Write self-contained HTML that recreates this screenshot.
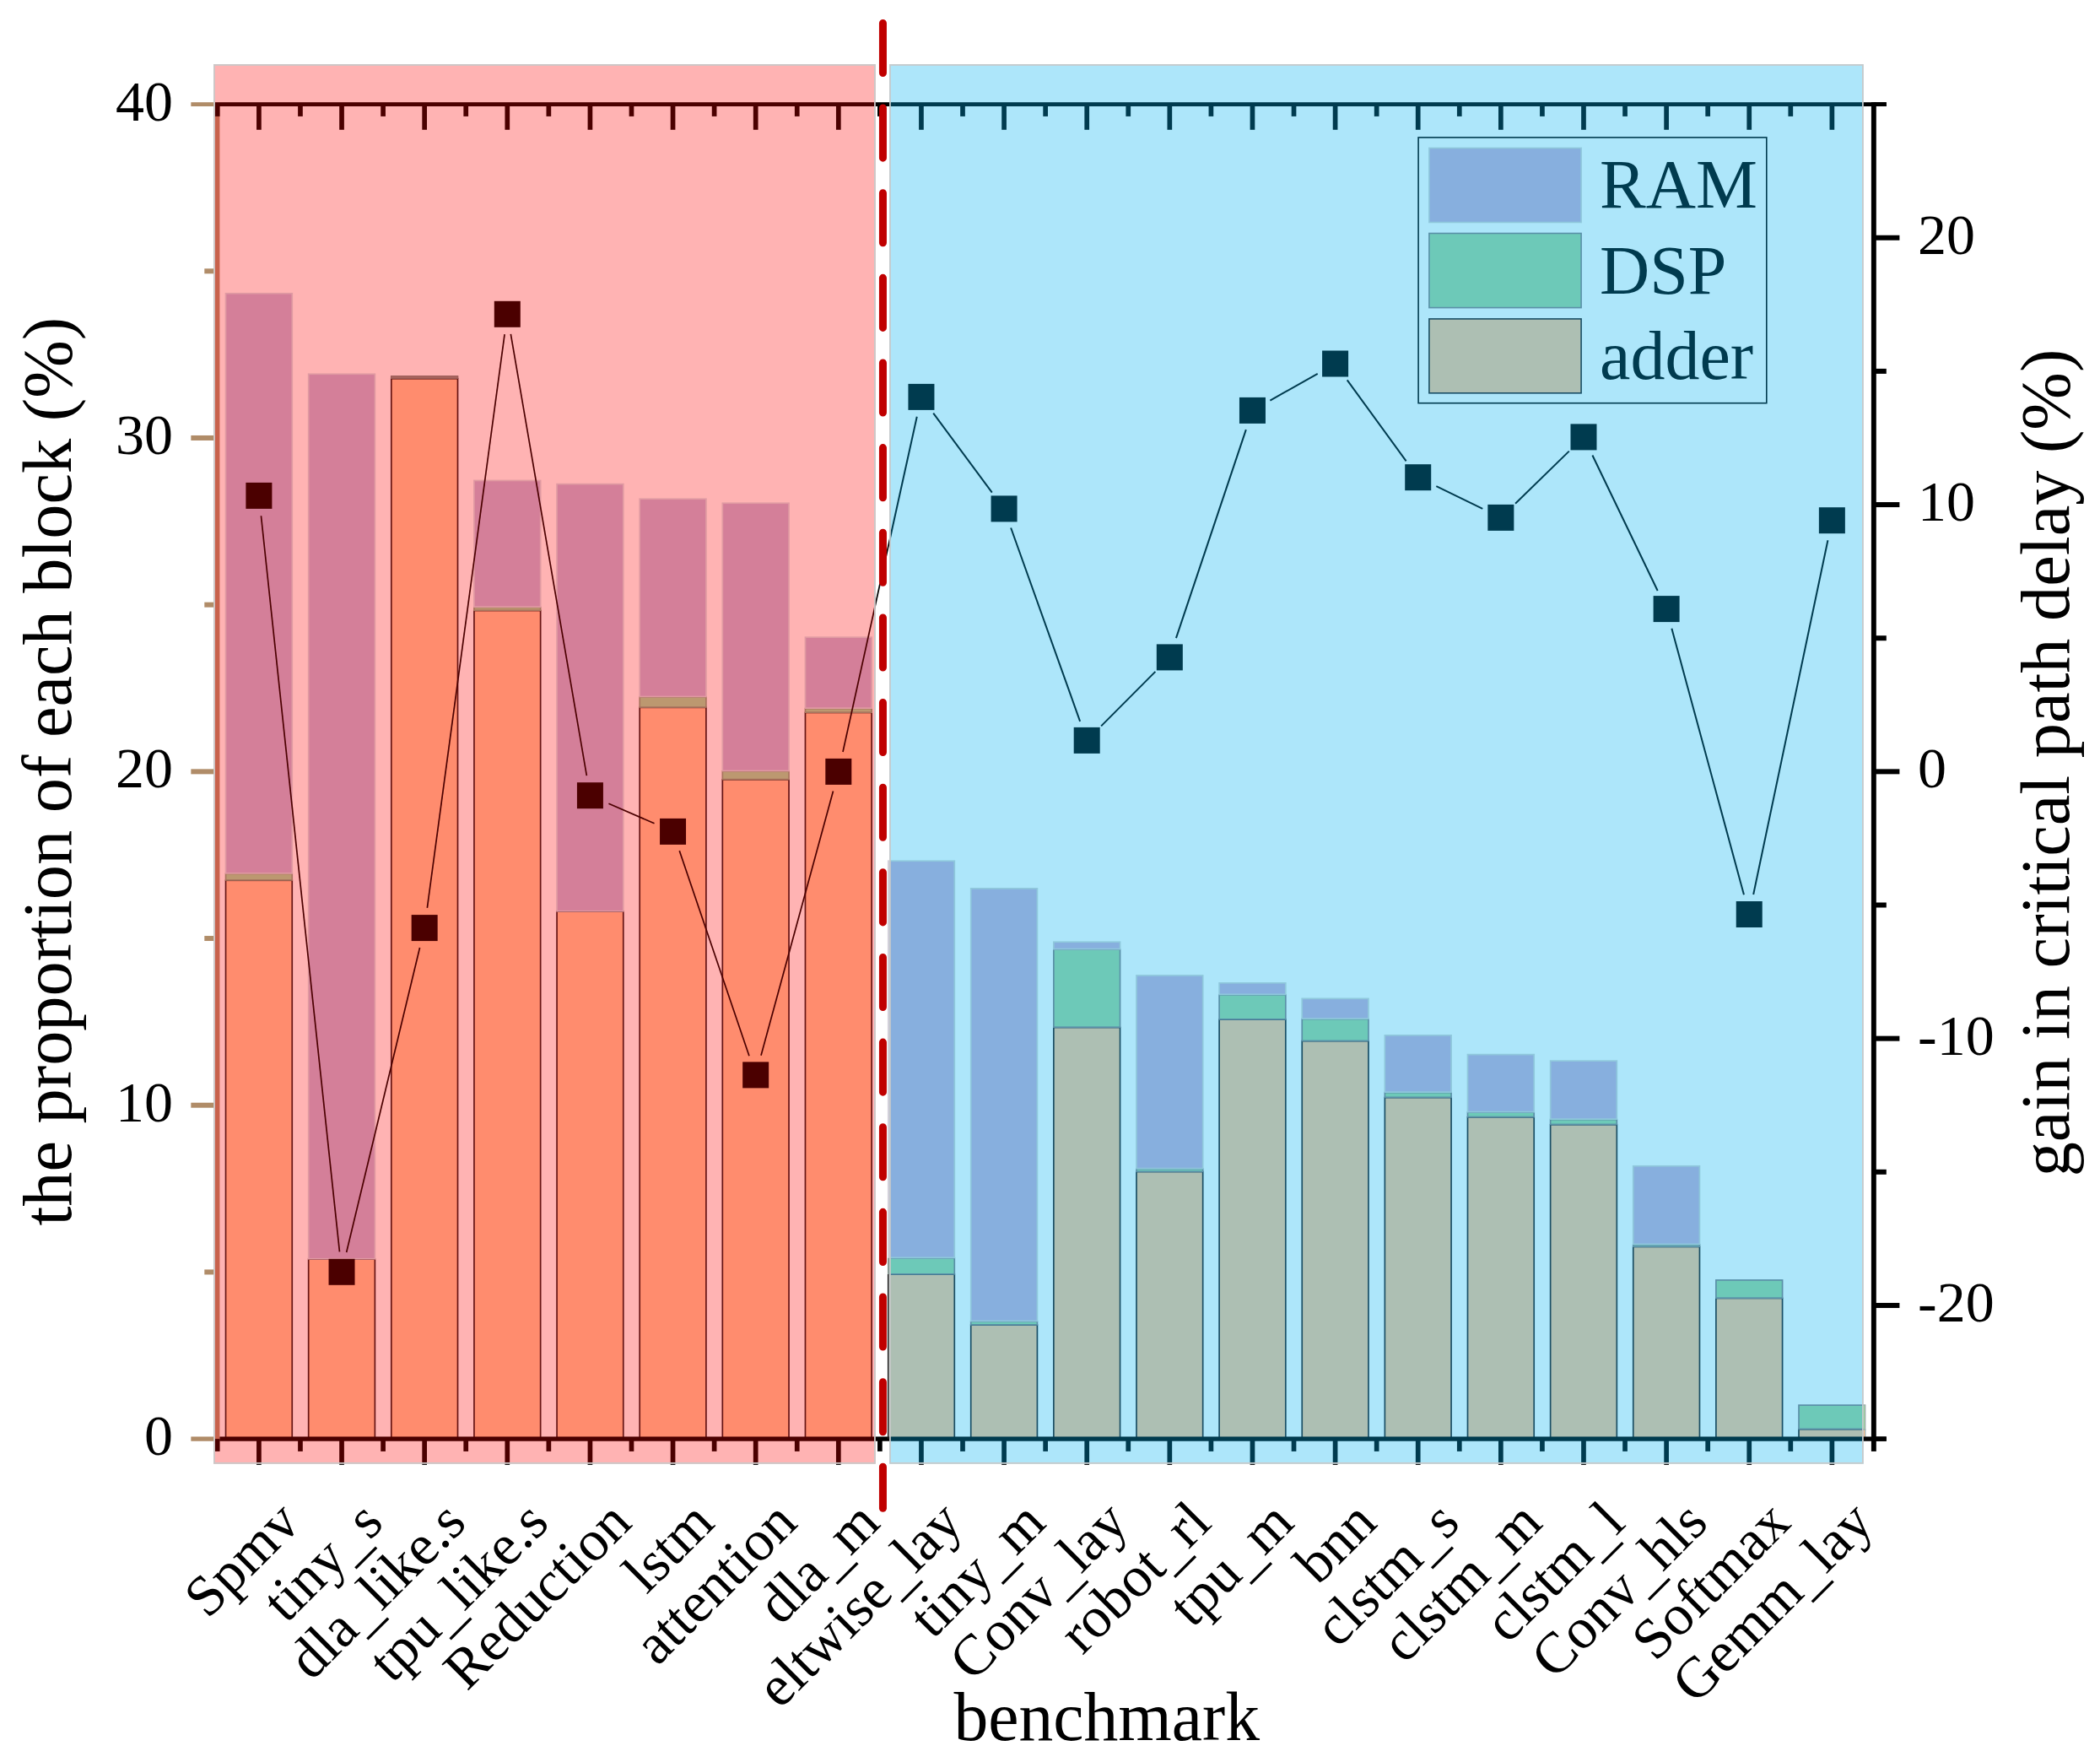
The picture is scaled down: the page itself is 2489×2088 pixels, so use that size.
<!DOCTYPE html>
<html><head><meta charset="utf-8"><title>chart</title>
<style>html,body{margin:0;padding:0;background:#fff}svg{display:block}</style></head>
<body>
<svg width="2489" height="2088" viewBox="0 0 2489 2088" font-family="'Liberation Serif','Times New Roman',serif">
<defs>
<clipPath id="cp"><rect x="0" y="0" width="1037.8" height="1734.7"/></clipPath>
<clipPath id="cg"><rect x="1037.8" y="0" width="16.299999999999955" height="2088"/><rect x="0" y="1734.7" width="2489" height="400"/></clipPath>
<clipPath id="cb"><rect x="1054.1" y="0" width="1154.65" height="1734.7"/></clipPath>
<clipPath id="cr"><rect x="2208.75" y="0" width="300" height="1734.7"/></clipPath>
</defs>
<rect width="2489" height="2088" fill="#fff"/>
<rect x="2131.97" y="1664.90" width="78.80" height="29.30" fill="#A1D49D" stroke="#9AA" stroke-width="1.2"/>
<rect x="2131.97" y="1694.20" width="78.80" height="11.50" fill="#FFC595" stroke="#9AA" stroke-width="1.2"/>
<rect x="253.05" y="76.10" width="784.75" height="1658.60" fill="#FFB3B3"/>
<rect x="1054.10" y="76.10" width="1154.65" height="1658.60" fill="#ADE6FA"/>
<rect x="255.00" y="123.60" width="5.4" height="1584.10" fill="#C8624C"/>
<clipPath id="cz"><rect x="253.05" y="0" width="784.75" height="2088"/><rect x="1054.10" y="0" width="1154.65" height="2088"/></clipPath>
<g clip-path="url(#cz)">
<rect x="267.55" y="1043.25" width="78.70" height="661.00" fill="#FF8C6E" stroke="#661414" stroke-width="1.7"/>
<rect x="267.55" y="1035.35" width="78.70" height="7.60" fill="#BC9870" stroke="#A8745E" stroke-width="1.7"/>
<rect x="267.55" y="347.75" width="78.70" height="687.10" fill="#D47F99" stroke="#E09AA2" stroke-width="1.7"/>
<rect x="365.68" y="1492.15" width="78.70" height="212.10" fill="#FF8C6E" stroke="#661414" stroke-width="1.7"/>
<rect x="365.68" y="443.25" width="78.70" height="1048.50" fill="#D47F99" stroke="#E09AA2" stroke-width="1.7"/>
<rect x="463.81" y="448.75" width="78.70" height="1255.50" fill="#FF8C6E" stroke="#661414" stroke-width="1.7"/>
<rect x="463.46" y="445.60" width="79.40" height="3.00" fill="#A8645E" stroke="#9A5A56" stroke-width="1.0"/>
<rect x="561.94" y="723.55" width="78.70" height="980.70" fill="#FF8C6E" stroke="#661414" stroke-width="1.7"/>
<rect x="561.94" y="719.65" width="78.70" height="3.60" fill="#BC9870" stroke="#A8745E" stroke-width="1.7"/>
<rect x="561.94" y="569.45" width="78.70" height="149.70" fill="#D47F99" stroke="#E09AA2" stroke-width="1.7"/>
<rect x="660.07" y="1080.15" width="78.70" height="624.10" fill="#FF8C6E" stroke="#661414" stroke-width="1.7"/>
<rect x="660.07" y="573.65" width="78.70" height="506.10" fill="#D47F99" stroke="#E09AA2" stroke-width="1.7"/>
<rect x="758.20" y="838.35" width="78.70" height="865.90" fill="#FF8C6E" stroke="#661414" stroke-width="1.7"/>
<rect x="758.20" y="825.95" width="78.70" height="12.10" fill="#BC9870" stroke="#A8745E" stroke-width="1.7"/>
<rect x="758.20" y="591.25" width="78.70" height="234.20" fill="#D47F99" stroke="#E09AA2" stroke-width="1.7"/>
<rect x="856.33" y="923.85" width="78.70" height="780.40" fill="#FF8C6E" stroke="#661414" stroke-width="1.7"/>
<rect x="856.33" y="913.95" width="78.70" height="9.60" fill="#BC9870" stroke="#A8745E" stroke-width="1.7"/>
<rect x="856.33" y="596.25" width="78.70" height="317.20" fill="#D47F99" stroke="#E09AA2" stroke-width="1.7"/>
<rect x="954.46" y="844.45" width="78.70" height="859.80" fill="#FF8C6E" stroke="#661414" stroke-width="1.7"/>
<rect x="954.46" y="839.65" width="78.70" height="4.50" fill="#BC9870" stroke="#A8745E" stroke-width="1.7"/>
<rect x="954.46" y="755.15" width="78.70" height="84.00" fill="#D47F99" stroke="#E09AA2" stroke-width="1.7"/>
<rect x="1052.59" y="1510.15" width="78.70" height="194.10" fill="#ADBFB3" stroke="#1A4F66" stroke-width="1.7"/>
<rect x="1052.59" y="1490.85" width="78.70" height="19.00" fill="#6DC9B8" stroke="#5A90A8" stroke-width="1.7"/>
<rect x="1052.59" y="1020.25" width="78.70" height="470.10" fill="#87AFDE" stroke="#8FC8DC" stroke-width="1.7"/>
<rect x="1150.72" y="1570.15" width="78.70" height="134.10" fill="#ADBFB3" stroke="#1A4F66" stroke-width="1.7"/>
<rect x="1150.72" y="1565.95" width="78.70" height="3.90" fill="#6DC9B8" stroke="#5A90A8" stroke-width="1.7"/>
<rect x="1150.72" y="1052.85" width="78.70" height="512.60" fill="#87AFDE" stroke="#8FC8DC" stroke-width="1.7"/>
<rect x="1248.85" y="1217.55" width="78.70" height="486.70" fill="#ADBFB3" stroke="#1A4F66" stroke-width="1.7"/>
<rect x="1248.85" y="1125.15" width="78.70" height="92.10" fill="#6DC9B8" stroke="#5A90A8" stroke-width="1.7"/>
<rect x="1248.85" y="1116.25" width="78.70" height="8.40" fill="#87AFDE" stroke="#8FC8DC" stroke-width="1.7"/>
<rect x="1346.98" y="1388.55" width="78.70" height="315.70" fill="#ADBFB3" stroke="#1A4F66" stroke-width="1.7"/>
<rect x="1346.98" y="1385.15" width="78.70" height="3.10" fill="#6DC9B8" stroke="#5A90A8" stroke-width="1.7"/>
<rect x="1346.98" y="1155.95" width="78.70" height="228.70" fill="#87AFDE" stroke="#8FC8DC" stroke-width="1.7"/>
<rect x="1445.11" y="1208.15" width="78.70" height="496.10" fill="#ADBFB3" stroke="#1A4F66" stroke-width="1.7"/>
<rect x="1445.11" y="1178.85" width="78.70" height="29.00" fill="#6DC9B8" stroke="#5A90A8" stroke-width="1.7"/>
<rect x="1445.11" y="1164.85" width="78.70" height="13.50" fill="#87AFDE" stroke="#8FC8DC" stroke-width="1.7"/>
<rect x="1543.24" y="1233.65" width="78.70" height="470.60" fill="#ADBFB3" stroke="#1A4F66" stroke-width="1.7"/>
<rect x="1543.24" y="1207.55" width="78.70" height="25.80" fill="#6DC9B8" stroke="#5A90A8" stroke-width="1.7"/>
<rect x="1543.24" y="1183.35" width="78.70" height="23.70" fill="#87AFDE" stroke="#8FC8DC" stroke-width="1.7"/>
<rect x="1641.37" y="1300.65" width="78.70" height="403.60" fill="#ADBFB3" stroke="#1A4F66" stroke-width="1.7"/>
<rect x="1641.37" y="1294.65" width="78.70" height="5.70" fill="#6DC9B8" stroke="#5A90A8" stroke-width="1.7"/>
<rect x="1641.37" y="1226.85" width="78.70" height="67.30" fill="#87AFDE" stroke="#8FC8DC" stroke-width="1.7"/>
<rect x="1739.50" y="1323.85" width="78.70" height="380.40" fill="#ADBFB3" stroke="#1A4F66" stroke-width="1.7"/>
<rect x="1739.50" y="1318.15" width="78.70" height="5.40" fill="#6DC9B8" stroke="#5A90A8" stroke-width="1.7"/>
<rect x="1739.50" y="1249.65" width="78.70" height="68.00" fill="#87AFDE" stroke="#8FC8DC" stroke-width="1.7"/>
<rect x="1837.63" y="1332.75" width="78.70" height="371.50" fill="#ADBFB3" stroke="#1A4F66" stroke-width="1.7"/>
<rect x="1837.63" y="1326.65" width="78.70" height="5.80" fill="#6DC9B8" stroke="#5A90A8" stroke-width="1.7"/>
<rect x="1837.63" y="1257.15" width="78.70" height="69.00" fill="#87AFDE" stroke="#8FC8DC" stroke-width="1.7"/>
<rect x="1935.76" y="1477.45" width="78.70" height="226.80" fill="#ADBFB3" stroke="#1A4F66" stroke-width="1.7"/>
<rect x="1935.76" y="1474.85" width="78.70" height="2.30" fill="#6DC9B8" stroke="#5A90A8" stroke-width="1.7"/>
<rect x="1935.76" y="1381.75" width="78.70" height="92.60" fill="#87AFDE" stroke="#8FC8DC" stroke-width="1.7"/>
<rect x="2033.89" y="1538.45" width="78.70" height="165.80" fill="#ADBFB3" stroke="#1A4F66" stroke-width="1.7"/>
<rect x="2033.89" y="1516.95" width="78.70" height="21.20" fill="#6DC9B8" stroke="#5A90A8" stroke-width="1.7"/>
<rect x="2132.02" y="1693.75" width="78.70" height="10.50" fill="#ADBFB3" stroke="#1A4F66" stroke-width="1.7"/>
<rect x="2132.02" y="1665.15" width="78.70" height="28.30" fill="#6DC9B8" stroke="#5A90A8" stroke-width="1.7"/>
</g>
<g clip-path="url(#cp)"><rect x="254.85" y="121.20" width="1980.95" height="4.8" fill="#4B0000"/>
<rect x="260.40" y="1702.45" width="1975.40" height="5.3" fill="#4B0000"/>
<rect x="304.05" y="123.60" width="5.7" height="30.20" fill="#4B0000"/>
<rect x="304.05" y="1705.10" width="5.7" height="30.80" fill="#4B0000"/>
<rect x="402.18" y="123.60" width="5.7" height="30.20" fill="#4B0000"/>
<rect x="402.18" y="1705.10" width="5.7" height="30.80" fill="#4B0000"/>
<rect x="500.31" y="123.60" width="5.7" height="30.20" fill="#4B0000"/>
<rect x="500.31" y="1705.10" width="5.7" height="30.80" fill="#4B0000"/>
<rect x="598.44" y="123.60" width="5.7" height="30.20" fill="#4B0000"/>
<rect x="598.44" y="1705.10" width="5.7" height="30.80" fill="#4B0000"/>
<rect x="696.57" y="123.60" width="5.7" height="30.20" fill="#4B0000"/>
<rect x="696.57" y="1705.10" width="5.7" height="30.80" fill="#4B0000"/>
<rect x="794.70" y="123.60" width="5.7" height="30.20" fill="#4B0000"/>
<rect x="794.70" y="1705.10" width="5.7" height="30.80" fill="#4B0000"/>
<rect x="892.83" y="123.60" width="5.7" height="30.20" fill="#4B0000"/>
<rect x="892.83" y="1705.10" width="5.7" height="30.80" fill="#4B0000"/>
<rect x="990.96" y="123.60" width="5.7" height="30.20" fill="#4B0000"/>
<rect x="990.96" y="1705.10" width="5.7" height="30.80" fill="#4B0000"/>
<rect x="1089.09" y="123.60" width="5.7" height="30.20" fill="#4B0000"/>
<rect x="1089.09" y="1705.10" width="5.7" height="30.80" fill="#4B0000"/>
<rect x="1187.22" y="123.60" width="5.7" height="30.20" fill="#4B0000"/>
<rect x="1187.22" y="1705.10" width="5.7" height="30.80" fill="#4B0000"/>
<rect x="1285.35" y="123.60" width="5.7" height="30.20" fill="#4B0000"/>
<rect x="1285.35" y="1705.10" width="5.7" height="30.80" fill="#4B0000"/>
<rect x="1383.48" y="123.60" width="5.7" height="30.20" fill="#4B0000"/>
<rect x="1383.48" y="1705.10" width="5.7" height="30.80" fill="#4B0000"/>
<rect x="1481.61" y="123.60" width="5.7" height="30.20" fill="#4B0000"/>
<rect x="1481.61" y="1705.10" width="5.7" height="30.80" fill="#4B0000"/>
<rect x="1579.74" y="123.60" width="5.7" height="30.20" fill="#4B0000"/>
<rect x="1579.74" y="1705.10" width="5.7" height="30.80" fill="#4B0000"/>
<rect x="1677.87" y="123.60" width="5.7" height="30.20" fill="#4B0000"/>
<rect x="1677.87" y="1705.10" width="5.7" height="30.80" fill="#4B0000"/>
<rect x="1776.00" y="123.60" width="5.7" height="30.20" fill="#4B0000"/>
<rect x="1776.00" y="1705.10" width="5.7" height="30.80" fill="#4B0000"/>
<rect x="1874.13" y="123.60" width="5.7" height="30.20" fill="#4B0000"/>
<rect x="1874.13" y="1705.10" width="5.7" height="30.80" fill="#4B0000"/>
<rect x="1972.26" y="123.60" width="5.7" height="30.20" fill="#4B0000"/>
<rect x="1972.26" y="1705.10" width="5.7" height="30.80" fill="#4B0000"/>
<rect x="2070.39" y="123.60" width="5.7" height="30.20" fill="#4B0000"/>
<rect x="2070.39" y="1705.10" width="5.7" height="30.80" fill="#4B0000"/>
<rect x="2168.52" y="123.60" width="5.7" height="30.20" fill="#4B0000"/>
<rect x="2168.52" y="1705.10" width="5.7" height="30.80" fill="#4B0000"/>
<rect x="254.85" y="123.60" width="5.7" height="14.30" fill="#4B0000"/>
<rect x="254.85" y="1705.10" width="5.7" height="14.80" fill="#4B0000"/>
<rect x="353.11" y="123.60" width="5.7" height="14.30" fill="#4B0000"/>
<rect x="353.11" y="1705.10" width="5.7" height="14.80" fill="#4B0000"/>
<rect x="451.24" y="123.60" width="5.7" height="14.30" fill="#4B0000"/>
<rect x="451.24" y="1705.10" width="5.7" height="14.80" fill="#4B0000"/>
<rect x="549.37" y="123.60" width="5.7" height="14.30" fill="#4B0000"/>
<rect x="549.37" y="1705.10" width="5.7" height="14.80" fill="#4B0000"/>
<rect x="647.50" y="123.60" width="5.7" height="14.30" fill="#4B0000"/>
<rect x="647.50" y="1705.10" width="5.7" height="14.80" fill="#4B0000"/>
<rect x="745.63" y="123.60" width="5.7" height="14.30" fill="#4B0000"/>
<rect x="745.63" y="1705.10" width="5.7" height="14.80" fill="#4B0000"/>
<rect x="843.76" y="123.60" width="5.7" height="14.30" fill="#4B0000"/>
<rect x="843.76" y="1705.10" width="5.7" height="14.80" fill="#4B0000"/>
<rect x="941.89" y="123.60" width="5.7" height="14.30" fill="#4B0000"/>
<rect x="941.89" y="1705.10" width="5.7" height="14.80" fill="#4B0000"/>
<rect x="1040.03" y="123.60" width="5.7" height="14.30" fill="#4B0000"/>
<rect x="1040.03" y="1705.10" width="5.7" height="14.80" fill="#4B0000"/>
<rect x="1138.16" y="123.60" width="5.7" height="14.30" fill="#4B0000"/>
<rect x="1138.16" y="1705.10" width="5.7" height="14.80" fill="#4B0000"/>
<rect x="1236.29" y="123.60" width="5.7" height="14.30" fill="#4B0000"/>
<rect x="1236.29" y="1705.10" width="5.7" height="14.80" fill="#4B0000"/>
<rect x="1334.41" y="123.60" width="5.7" height="14.30" fill="#4B0000"/>
<rect x="1334.41" y="1705.10" width="5.7" height="14.80" fill="#4B0000"/>
<rect x="1432.55" y="123.60" width="5.7" height="14.30" fill="#4B0000"/>
<rect x="1432.55" y="1705.10" width="5.7" height="14.80" fill="#4B0000"/>
<rect x="1530.68" y="123.60" width="5.7" height="14.30" fill="#4B0000"/>
<rect x="1530.68" y="1705.10" width="5.7" height="14.80" fill="#4B0000"/>
<rect x="1628.81" y="123.60" width="5.7" height="14.30" fill="#4B0000"/>
<rect x="1628.81" y="1705.10" width="5.7" height="14.80" fill="#4B0000"/>
<rect x="1726.93" y="123.60" width="5.7" height="14.30" fill="#4B0000"/>
<rect x="1726.93" y="1705.10" width="5.7" height="14.80" fill="#4B0000"/>
<rect x="1825.07" y="123.60" width="5.7" height="14.30" fill="#4B0000"/>
<rect x="1825.07" y="1705.10" width="5.7" height="14.80" fill="#4B0000"/>
<rect x="1923.20" y="123.60" width="5.7" height="14.30" fill="#4B0000"/>
<rect x="1923.20" y="1705.10" width="5.7" height="14.80" fill="#4B0000"/>
<rect x="2021.33" y="123.60" width="5.7" height="14.30" fill="#4B0000"/>
<rect x="2021.33" y="1705.10" width="5.7" height="14.80" fill="#4B0000"/>
<rect x="2119.45" y="123.60" width="5.7" height="14.30" fill="#4B0000"/>
<rect x="2119.45" y="1705.10" width="5.7" height="14.80" fill="#4B0000"/>
<line x1="309.45" y1="611.26" x2="402.48" y2="1483.44" stroke="#4B0000" stroke-width="1.7"/>
<line x1="410.65" y1="1483.97" x2="497.54" y2="1122.93" stroke="#4B0000" stroke-width="1.7"/>
<line x1="506.37" y1="1075.82" x2="598.08" y2="396.08" stroke="#4B0000" stroke-width="1.7"/>
<line x1="605.36" y1="395.95" x2="695.35" y2="919.05" stroke="#4B0000" stroke-width="1.7"/>
<line x1="721.43" y1="952.28" x2="775.54" y2="975.82" stroke="#4B0000" stroke-width="1.7"/>
<line x1="805.28" y1="1008.12" x2="887.95" y2="1251.18" stroke="#4B0000" stroke-width="1.7"/>
<line x1="902.00" y1="1250.75" x2="987.49" y2="937.55" stroke="#4B0000" stroke-width="1.7"/>
<line x1="998.99" y1="890.97" x2="1086.76" y2="493.83" stroke="#4B0000" stroke-width="1.7"/>
<line x1="1106.22" y1="489.69" x2="1175.79" y2="583.61" stroke="#4B0000" stroke-width="1.7"/>
<line x1="1198.15" y1="625.50" x2="1280.12" y2="854.80" stroke="#4B0000" stroke-width="1.7"/>
<line x1="1305.14" y1="860.40" x2="1369.39" y2="795.90" stroke="#4B0000" stroke-width="1.7"/>
<line x1="1393.96" y1="756.15" x2="1476.83" y2="509.15" stroke="#4B0000" stroke-width="1.7"/>
<line x1="1505.36" y1="474.60" x2="1561.69" y2="442.80" stroke="#4B0000" stroke-width="1.7"/>
<line x1="1596.72" y1="450.40" x2="1666.59" y2="546.30" stroke="#4B0000" stroke-width="1.7"/>
<line x1="1702.31" y1="576.19" x2="1757.26" y2="602.91" stroke="#4B0000" stroke-width="1.7"/>
<line x1="1796.05" y1="596.66" x2="1859.78" y2="534.64" stroke="#4B0000" stroke-width="1.7"/>
<line x1="1887.40" y1="539.52" x2="1964.69" y2="699.98" stroke="#4B0000" stroke-width="1.7"/>
<line x1="1981.39" y1="744.76" x2="2066.96" y2="1060.34" stroke="#4B0000" stroke-width="1.7"/>
<line x1="2078.18" y1="1060.01" x2="2166.43" y2="640.19" stroke="#4B0000" stroke-width="1.7"/>
<rect x="291.40" y="571.90" width="31.0" height="31.0" fill="#4B0000"/>
<rect x="389.53" y="1491.80" width="31.0" height="31.0" fill="#4B0000"/>
<rect x="487.66" y="1084.10" width="31.0" height="31.0" fill="#4B0000"/>
<rect x="585.79" y="356.80" width="31.0" height="31.0" fill="#4B0000"/>
<rect x="683.92" y="927.20" width="31.0" height="31.0" fill="#4B0000"/>
<rect x="782.05" y="969.90" width="31.0" height="31.0" fill="#4B0000"/>
<rect x="880.18" y="1258.40" width="31.0" height="31.0" fill="#4B0000"/>
<rect x="978.31" y="898.90" width="31.0" height="31.0" fill="#4B0000"/>
<rect x="1076.44" y="454.90" width="31.0" height="31.0" fill="#4B0000"/>
<rect x="1174.57" y="587.40" width="31.0" height="31.0" fill="#4B0000"/>
<rect x="1272.70" y="861.90" width="31.0" height="31.0" fill="#4B0000"/>
<rect x="1370.83" y="763.40" width="31.0" height="31.0" fill="#4B0000"/>
<rect x="1468.96" y="470.90" width="31.0" height="31.0" fill="#4B0000"/>
<rect x="1567.09" y="415.50" width="31.0" height="31.0" fill="#4B0000"/>
<rect x="1665.22" y="550.20" width="31.0" height="31.0" fill="#4B0000"/>
<rect x="1763.35" y="597.90" width="31.0" height="31.0" fill="#4B0000"/>
<rect x="1861.48" y="502.40" width="31.0" height="31.0" fill="#4B0000"/>
<rect x="1959.61" y="706.10" width="31.0" height="31.0" fill="#4B0000"/>
<rect x="2057.74" y="1068.00" width="31.0" height="31.0" fill="#4B0000"/>
<rect x="2155.87" y="601.20" width="31.0" height="31.0" fill="#4B0000"/></g>
<g clip-path="url(#cg)"><rect x="254.85" y="121.20" width="1980.95" height="4.8" fill="#000"/>
<rect x="260.40" y="1702.45" width="1975.40" height="5.3" fill="#000"/>
<rect x="304.05" y="123.60" width="5.7" height="30.20" fill="#000"/>
<rect x="304.05" y="1705.10" width="5.7" height="30.80" fill="#000"/>
<rect x="402.18" y="123.60" width="5.7" height="30.20" fill="#000"/>
<rect x="402.18" y="1705.10" width="5.7" height="30.80" fill="#000"/>
<rect x="500.31" y="123.60" width="5.7" height="30.20" fill="#000"/>
<rect x="500.31" y="1705.10" width="5.7" height="30.80" fill="#000"/>
<rect x="598.44" y="123.60" width="5.7" height="30.20" fill="#000"/>
<rect x="598.44" y="1705.10" width="5.7" height="30.80" fill="#000"/>
<rect x="696.57" y="123.60" width="5.7" height="30.20" fill="#000"/>
<rect x="696.57" y="1705.10" width="5.7" height="30.80" fill="#000"/>
<rect x="794.70" y="123.60" width="5.7" height="30.20" fill="#000"/>
<rect x="794.70" y="1705.10" width="5.7" height="30.80" fill="#000"/>
<rect x="892.83" y="123.60" width="5.7" height="30.20" fill="#000"/>
<rect x="892.83" y="1705.10" width="5.7" height="30.80" fill="#000"/>
<rect x="990.96" y="123.60" width="5.7" height="30.20" fill="#000"/>
<rect x="990.96" y="1705.10" width="5.7" height="30.80" fill="#000"/>
<rect x="1089.09" y="123.60" width="5.7" height="30.20" fill="#000"/>
<rect x="1089.09" y="1705.10" width="5.7" height="30.80" fill="#000"/>
<rect x="1187.22" y="123.60" width="5.7" height="30.20" fill="#000"/>
<rect x="1187.22" y="1705.10" width="5.7" height="30.80" fill="#000"/>
<rect x="1285.35" y="123.60" width="5.7" height="30.20" fill="#000"/>
<rect x="1285.35" y="1705.10" width="5.7" height="30.80" fill="#000"/>
<rect x="1383.48" y="123.60" width="5.7" height="30.20" fill="#000"/>
<rect x="1383.48" y="1705.10" width="5.7" height="30.80" fill="#000"/>
<rect x="1481.61" y="123.60" width="5.7" height="30.20" fill="#000"/>
<rect x="1481.61" y="1705.10" width="5.7" height="30.80" fill="#000"/>
<rect x="1579.74" y="123.60" width="5.7" height="30.20" fill="#000"/>
<rect x="1579.74" y="1705.10" width="5.7" height="30.80" fill="#000"/>
<rect x="1677.87" y="123.60" width="5.7" height="30.20" fill="#000"/>
<rect x="1677.87" y="1705.10" width="5.7" height="30.80" fill="#000"/>
<rect x="1776.00" y="123.60" width="5.7" height="30.20" fill="#000"/>
<rect x="1776.00" y="1705.10" width="5.7" height="30.80" fill="#000"/>
<rect x="1874.13" y="123.60" width="5.7" height="30.20" fill="#000"/>
<rect x="1874.13" y="1705.10" width="5.7" height="30.80" fill="#000"/>
<rect x="1972.26" y="123.60" width="5.7" height="30.20" fill="#000"/>
<rect x="1972.26" y="1705.10" width="5.7" height="30.80" fill="#000"/>
<rect x="2070.39" y="123.60" width="5.7" height="30.20" fill="#000"/>
<rect x="2070.39" y="1705.10" width="5.7" height="30.80" fill="#000"/>
<rect x="2168.52" y="123.60" width="5.7" height="30.20" fill="#000"/>
<rect x="2168.52" y="1705.10" width="5.7" height="30.80" fill="#000"/>
<rect x="254.85" y="123.60" width="5.7" height="14.30" fill="#000"/>
<rect x="254.85" y="1705.10" width="5.7" height="14.80" fill="#000"/>
<rect x="353.11" y="123.60" width="5.7" height="14.30" fill="#000"/>
<rect x="353.11" y="1705.10" width="5.7" height="14.80" fill="#000"/>
<rect x="451.24" y="123.60" width="5.7" height="14.30" fill="#000"/>
<rect x="451.24" y="1705.10" width="5.7" height="14.80" fill="#000"/>
<rect x="549.37" y="123.60" width="5.7" height="14.30" fill="#000"/>
<rect x="549.37" y="1705.10" width="5.7" height="14.80" fill="#000"/>
<rect x="647.50" y="123.60" width="5.7" height="14.30" fill="#000"/>
<rect x="647.50" y="1705.10" width="5.7" height="14.80" fill="#000"/>
<rect x="745.63" y="123.60" width="5.7" height="14.30" fill="#000"/>
<rect x="745.63" y="1705.10" width="5.7" height="14.80" fill="#000"/>
<rect x="843.76" y="123.60" width="5.7" height="14.30" fill="#000"/>
<rect x="843.76" y="1705.10" width="5.7" height="14.80" fill="#000"/>
<rect x="941.89" y="123.60" width="5.7" height="14.30" fill="#000"/>
<rect x="941.89" y="1705.10" width="5.7" height="14.80" fill="#000"/>
<rect x="1040.03" y="123.60" width="5.7" height="14.30" fill="#000"/>
<rect x="1040.03" y="1705.10" width="5.7" height="14.80" fill="#000"/>
<rect x="1138.16" y="123.60" width="5.7" height="14.30" fill="#000"/>
<rect x="1138.16" y="1705.10" width="5.7" height="14.80" fill="#000"/>
<rect x="1236.29" y="123.60" width="5.7" height="14.30" fill="#000"/>
<rect x="1236.29" y="1705.10" width="5.7" height="14.80" fill="#000"/>
<rect x="1334.41" y="123.60" width="5.7" height="14.30" fill="#000"/>
<rect x="1334.41" y="1705.10" width="5.7" height="14.80" fill="#000"/>
<rect x="1432.55" y="123.60" width="5.7" height="14.30" fill="#000"/>
<rect x="1432.55" y="1705.10" width="5.7" height="14.80" fill="#000"/>
<rect x="1530.68" y="123.60" width="5.7" height="14.30" fill="#000"/>
<rect x="1530.68" y="1705.10" width="5.7" height="14.80" fill="#000"/>
<rect x="1628.81" y="123.60" width="5.7" height="14.30" fill="#000"/>
<rect x="1628.81" y="1705.10" width="5.7" height="14.80" fill="#000"/>
<rect x="1726.93" y="123.60" width="5.7" height="14.30" fill="#000"/>
<rect x="1726.93" y="1705.10" width="5.7" height="14.80" fill="#000"/>
<rect x="1825.07" y="123.60" width="5.7" height="14.30" fill="#000"/>
<rect x="1825.07" y="1705.10" width="5.7" height="14.80" fill="#000"/>
<rect x="1923.20" y="123.60" width="5.7" height="14.30" fill="#000"/>
<rect x="1923.20" y="1705.10" width="5.7" height="14.80" fill="#000"/>
<rect x="2021.33" y="123.60" width="5.7" height="14.30" fill="#000"/>
<rect x="2021.33" y="1705.10" width="5.7" height="14.80" fill="#000"/>
<rect x="2119.45" y="123.60" width="5.7" height="14.30" fill="#000"/>
<rect x="2119.45" y="1705.10" width="5.7" height="14.80" fill="#000"/>
<line x1="309.45" y1="611.26" x2="402.48" y2="1483.44" stroke="#000" stroke-width="1.7"/>
<line x1="410.65" y1="1483.97" x2="497.54" y2="1122.93" stroke="#000" stroke-width="1.7"/>
<line x1="506.37" y1="1075.82" x2="598.08" y2="396.08" stroke="#000" stroke-width="1.7"/>
<line x1="605.36" y1="395.95" x2="695.35" y2="919.05" stroke="#000" stroke-width="1.7"/>
<line x1="721.43" y1="952.28" x2="775.54" y2="975.82" stroke="#000" stroke-width="1.7"/>
<line x1="805.28" y1="1008.12" x2="887.95" y2="1251.18" stroke="#000" stroke-width="1.7"/>
<line x1="902.00" y1="1250.75" x2="987.49" y2="937.55" stroke="#000" stroke-width="1.7"/>
<line x1="998.99" y1="890.97" x2="1086.76" y2="493.83" stroke="#000" stroke-width="1.7"/>
<line x1="1106.22" y1="489.69" x2="1175.79" y2="583.61" stroke="#000" stroke-width="1.7"/>
<line x1="1198.15" y1="625.50" x2="1280.12" y2="854.80" stroke="#000" stroke-width="1.7"/>
<line x1="1305.14" y1="860.40" x2="1369.39" y2="795.90" stroke="#000" stroke-width="1.7"/>
<line x1="1393.96" y1="756.15" x2="1476.83" y2="509.15" stroke="#000" stroke-width="1.7"/>
<line x1="1505.36" y1="474.60" x2="1561.69" y2="442.80" stroke="#000" stroke-width="1.7"/>
<line x1="1596.72" y1="450.40" x2="1666.59" y2="546.30" stroke="#000" stroke-width="1.7"/>
<line x1="1702.31" y1="576.19" x2="1757.26" y2="602.91" stroke="#000" stroke-width="1.7"/>
<line x1="1796.05" y1="596.66" x2="1859.78" y2="534.64" stroke="#000" stroke-width="1.7"/>
<line x1="1887.40" y1="539.52" x2="1964.69" y2="699.98" stroke="#000" stroke-width="1.7"/>
<line x1="1981.39" y1="744.76" x2="2066.96" y2="1060.34" stroke="#000" stroke-width="1.7"/>
<line x1="2078.18" y1="1060.01" x2="2166.43" y2="640.19" stroke="#000" stroke-width="1.7"/>
<rect x="291.40" y="571.90" width="31.0" height="31.0" fill="#000"/>
<rect x="389.53" y="1491.80" width="31.0" height="31.0" fill="#000"/>
<rect x="487.66" y="1084.10" width="31.0" height="31.0" fill="#000"/>
<rect x="585.79" y="356.80" width="31.0" height="31.0" fill="#000"/>
<rect x="683.92" y="927.20" width="31.0" height="31.0" fill="#000"/>
<rect x="782.05" y="969.90" width="31.0" height="31.0" fill="#000"/>
<rect x="880.18" y="1258.40" width="31.0" height="31.0" fill="#000"/>
<rect x="978.31" y="898.90" width="31.0" height="31.0" fill="#000"/>
<rect x="1076.44" y="454.90" width="31.0" height="31.0" fill="#000"/>
<rect x="1174.57" y="587.40" width="31.0" height="31.0" fill="#000"/>
<rect x="1272.70" y="861.90" width="31.0" height="31.0" fill="#000"/>
<rect x="1370.83" y="763.40" width="31.0" height="31.0" fill="#000"/>
<rect x="1468.96" y="470.90" width="31.0" height="31.0" fill="#000"/>
<rect x="1567.09" y="415.50" width="31.0" height="31.0" fill="#000"/>
<rect x="1665.22" y="550.20" width="31.0" height="31.0" fill="#000"/>
<rect x="1763.35" y="597.90" width="31.0" height="31.0" fill="#000"/>
<rect x="1861.48" y="502.40" width="31.0" height="31.0" fill="#000"/>
<rect x="1959.61" y="706.10" width="31.0" height="31.0" fill="#000"/>
<rect x="2057.74" y="1068.00" width="31.0" height="31.0" fill="#000"/>
<rect x="2155.87" y="601.20" width="31.0" height="31.0" fill="#000"/>
<rect x="1051.94" y="1510" width="1.6" height="195.10" fill="#1a1a1a"/>
<rect x="1051.94" y="1019.4" width="2.3" height="471.20" fill="#D2D0DA"/>
<rect x="1051.94" y="1490.6" width="2.3" height="19.40" fill="#8a9a94"/></g>
<g clip-path="url(#cb)"><rect x="254.85" y="121.20" width="1980.95" height="4.8" fill="#003B4F"/>
<rect x="260.40" y="1702.45" width="1975.40" height="5.3" fill="#003B4F"/>
<rect x="304.05" y="123.60" width="5.7" height="30.20" fill="#003B4F"/>
<rect x="304.05" y="1705.10" width="5.7" height="30.80" fill="#003B4F"/>
<rect x="402.18" y="123.60" width="5.7" height="30.20" fill="#003B4F"/>
<rect x="402.18" y="1705.10" width="5.7" height="30.80" fill="#003B4F"/>
<rect x="500.31" y="123.60" width="5.7" height="30.20" fill="#003B4F"/>
<rect x="500.31" y="1705.10" width="5.7" height="30.80" fill="#003B4F"/>
<rect x="598.44" y="123.60" width="5.7" height="30.20" fill="#003B4F"/>
<rect x="598.44" y="1705.10" width="5.7" height="30.80" fill="#003B4F"/>
<rect x="696.57" y="123.60" width="5.7" height="30.20" fill="#003B4F"/>
<rect x="696.57" y="1705.10" width="5.7" height="30.80" fill="#003B4F"/>
<rect x="794.70" y="123.60" width="5.7" height="30.20" fill="#003B4F"/>
<rect x="794.70" y="1705.10" width="5.7" height="30.80" fill="#003B4F"/>
<rect x="892.83" y="123.60" width="5.7" height="30.20" fill="#003B4F"/>
<rect x="892.83" y="1705.10" width="5.7" height="30.80" fill="#003B4F"/>
<rect x="990.96" y="123.60" width="5.7" height="30.20" fill="#003B4F"/>
<rect x="990.96" y="1705.10" width="5.7" height="30.80" fill="#003B4F"/>
<rect x="1089.09" y="123.60" width="5.7" height="30.20" fill="#003B4F"/>
<rect x="1089.09" y="1705.10" width="5.7" height="30.80" fill="#003B4F"/>
<rect x="1187.22" y="123.60" width="5.7" height="30.20" fill="#003B4F"/>
<rect x="1187.22" y="1705.10" width="5.7" height="30.80" fill="#003B4F"/>
<rect x="1285.35" y="123.60" width="5.7" height="30.20" fill="#003B4F"/>
<rect x="1285.35" y="1705.10" width="5.7" height="30.80" fill="#003B4F"/>
<rect x="1383.48" y="123.60" width="5.7" height="30.20" fill="#003B4F"/>
<rect x="1383.48" y="1705.10" width="5.7" height="30.80" fill="#003B4F"/>
<rect x="1481.61" y="123.60" width="5.7" height="30.20" fill="#003B4F"/>
<rect x="1481.61" y="1705.10" width="5.7" height="30.80" fill="#003B4F"/>
<rect x="1579.74" y="123.60" width="5.7" height="30.20" fill="#003B4F"/>
<rect x="1579.74" y="1705.10" width="5.7" height="30.80" fill="#003B4F"/>
<rect x="1677.87" y="123.60" width="5.7" height="30.20" fill="#003B4F"/>
<rect x="1677.87" y="1705.10" width="5.7" height="30.80" fill="#003B4F"/>
<rect x="1776.00" y="123.60" width="5.7" height="30.20" fill="#003B4F"/>
<rect x="1776.00" y="1705.10" width="5.7" height="30.80" fill="#003B4F"/>
<rect x="1874.13" y="123.60" width="5.7" height="30.20" fill="#003B4F"/>
<rect x="1874.13" y="1705.10" width="5.7" height="30.80" fill="#003B4F"/>
<rect x="1972.26" y="123.60" width="5.7" height="30.20" fill="#003B4F"/>
<rect x="1972.26" y="1705.10" width="5.7" height="30.80" fill="#003B4F"/>
<rect x="2070.39" y="123.60" width="5.7" height="30.20" fill="#003B4F"/>
<rect x="2070.39" y="1705.10" width="5.7" height="30.80" fill="#003B4F"/>
<rect x="2168.52" y="123.60" width="5.7" height="30.20" fill="#003B4F"/>
<rect x="2168.52" y="1705.10" width="5.7" height="30.80" fill="#003B4F"/>
<rect x="254.85" y="123.60" width="5.7" height="14.30" fill="#003B4F"/>
<rect x="254.85" y="1705.10" width="5.7" height="14.80" fill="#003B4F"/>
<rect x="353.11" y="123.60" width="5.7" height="14.30" fill="#003B4F"/>
<rect x="353.11" y="1705.10" width="5.7" height="14.80" fill="#003B4F"/>
<rect x="451.24" y="123.60" width="5.7" height="14.30" fill="#003B4F"/>
<rect x="451.24" y="1705.10" width="5.7" height="14.80" fill="#003B4F"/>
<rect x="549.37" y="123.60" width="5.7" height="14.30" fill="#003B4F"/>
<rect x="549.37" y="1705.10" width="5.7" height="14.80" fill="#003B4F"/>
<rect x="647.50" y="123.60" width="5.7" height="14.30" fill="#003B4F"/>
<rect x="647.50" y="1705.10" width="5.7" height="14.80" fill="#003B4F"/>
<rect x="745.63" y="123.60" width="5.7" height="14.30" fill="#003B4F"/>
<rect x="745.63" y="1705.10" width="5.7" height="14.80" fill="#003B4F"/>
<rect x="843.76" y="123.60" width="5.7" height="14.30" fill="#003B4F"/>
<rect x="843.76" y="1705.10" width="5.7" height="14.80" fill="#003B4F"/>
<rect x="941.89" y="123.60" width="5.7" height="14.30" fill="#003B4F"/>
<rect x="941.89" y="1705.10" width="5.7" height="14.80" fill="#003B4F"/>
<rect x="1040.03" y="123.60" width="5.7" height="14.30" fill="#003B4F"/>
<rect x="1040.03" y="1705.10" width="5.7" height="14.80" fill="#003B4F"/>
<rect x="1138.16" y="123.60" width="5.7" height="14.30" fill="#003B4F"/>
<rect x="1138.16" y="1705.10" width="5.7" height="14.80" fill="#003B4F"/>
<rect x="1236.29" y="123.60" width="5.7" height="14.30" fill="#003B4F"/>
<rect x="1236.29" y="1705.10" width="5.7" height="14.80" fill="#003B4F"/>
<rect x="1334.41" y="123.60" width="5.7" height="14.30" fill="#003B4F"/>
<rect x="1334.41" y="1705.10" width="5.7" height="14.80" fill="#003B4F"/>
<rect x="1432.55" y="123.60" width="5.7" height="14.30" fill="#003B4F"/>
<rect x="1432.55" y="1705.10" width="5.7" height="14.80" fill="#003B4F"/>
<rect x="1530.68" y="123.60" width="5.7" height="14.30" fill="#003B4F"/>
<rect x="1530.68" y="1705.10" width="5.7" height="14.80" fill="#003B4F"/>
<rect x="1628.81" y="123.60" width="5.7" height="14.30" fill="#003B4F"/>
<rect x="1628.81" y="1705.10" width="5.7" height="14.80" fill="#003B4F"/>
<rect x="1726.93" y="123.60" width="5.7" height="14.30" fill="#003B4F"/>
<rect x="1726.93" y="1705.10" width="5.7" height="14.80" fill="#003B4F"/>
<rect x="1825.07" y="123.60" width="5.7" height="14.30" fill="#003B4F"/>
<rect x="1825.07" y="1705.10" width="5.7" height="14.80" fill="#003B4F"/>
<rect x="1923.20" y="123.60" width="5.7" height="14.30" fill="#003B4F"/>
<rect x="1923.20" y="1705.10" width="5.7" height="14.80" fill="#003B4F"/>
<rect x="2021.33" y="123.60" width="5.7" height="14.30" fill="#003B4F"/>
<rect x="2021.33" y="1705.10" width="5.7" height="14.80" fill="#003B4F"/>
<rect x="2119.45" y="123.60" width="5.7" height="14.30" fill="#003B4F"/>
<rect x="2119.45" y="1705.10" width="5.7" height="14.80" fill="#003B4F"/>
<line x1="309.45" y1="611.26" x2="402.48" y2="1483.44" stroke="#003B4F" stroke-width="2.0"/>
<line x1="410.65" y1="1483.97" x2="497.54" y2="1122.93" stroke="#003B4F" stroke-width="2.0"/>
<line x1="506.37" y1="1075.82" x2="598.08" y2="396.08" stroke="#003B4F" stroke-width="2.0"/>
<line x1="605.36" y1="395.95" x2="695.35" y2="919.05" stroke="#003B4F" stroke-width="2.0"/>
<line x1="721.43" y1="952.28" x2="775.54" y2="975.82" stroke="#003B4F" stroke-width="2.0"/>
<line x1="805.28" y1="1008.12" x2="887.95" y2="1251.18" stroke="#003B4F" stroke-width="2.0"/>
<line x1="902.00" y1="1250.75" x2="987.49" y2="937.55" stroke="#003B4F" stroke-width="2.0"/>
<line x1="998.99" y1="890.97" x2="1086.76" y2="493.83" stroke="#003B4F" stroke-width="2.0"/>
<line x1="1106.22" y1="489.69" x2="1175.79" y2="583.61" stroke="#003B4F" stroke-width="2.0"/>
<line x1="1198.15" y1="625.50" x2="1280.12" y2="854.80" stroke="#003B4F" stroke-width="2.0"/>
<line x1="1305.14" y1="860.40" x2="1369.39" y2="795.90" stroke="#003B4F" stroke-width="2.0"/>
<line x1="1393.96" y1="756.15" x2="1476.83" y2="509.15" stroke="#003B4F" stroke-width="2.0"/>
<line x1="1505.36" y1="474.60" x2="1561.69" y2="442.80" stroke="#003B4F" stroke-width="2.0"/>
<line x1="1596.72" y1="450.40" x2="1666.59" y2="546.30" stroke="#003B4F" stroke-width="2.0"/>
<line x1="1702.31" y1="576.19" x2="1757.26" y2="602.91" stroke="#003B4F" stroke-width="2.0"/>
<line x1="1796.05" y1="596.66" x2="1859.78" y2="534.64" stroke="#003B4F" stroke-width="2.0"/>
<line x1="1887.40" y1="539.52" x2="1964.69" y2="699.98" stroke="#003B4F" stroke-width="2.0"/>
<line x1="1981.39" y1="744.76" x2="2066.96" y2="1060.34" stroke="#003B4F" stroke-width="2.0"/>
<line x1="2078.18" y1="1060.01" x2="2166.43" y2="640.19" stroke="#003B4F" stroke-width="2.0"/>
<rect x="291.40" y="571.90" width="31.0" height="31.0" fill="#003B4F"/>
<rect x="389.53" y="1491.80" width="31.0" height="31.0" fill="#003B4F"/>
<rect x="487.66" y="1084.10" width="31.0" height="31.0" fill="#003B4F"/>
<rect x="585.79" y="356.80" width="31.0" height="31.0" fill="#003B4F"/>
<rect x="683.92" y="927.20" width="31.0" height="31.0" fill="#003B4F"/>
<rect x="782.05" y="969.90" width="31.0" height="31.0" fill="#003B4F"/>
<rect x="880.18" y="1258.40" width="31.0" height="31.0" fill="#003B4F"/>
<rect x="978.31" y="898.90" width="31.0" height="31.0" fill="#003B4F"/>
<rect x="1076.44" y="454.90" width="31.0" height="31.0" fill="#003B4F"/>
<rect x="1174.57" y="587.40" width="31.0" height="31.0" fill="#003B4F"/>
<rect x="1272.70" y="861.90" width="31.0" height="31.0" fill="#003B4F"/>
<rect x="1370.83" y="763.40" width="31.0" height="31.0" fill="#003B4F"/>
<rect x="1468.96" y="470.90" width="31.0" height="31.0" fill="#003B4F"/>
<rect x="1567.09" y="415.50" width="31.0" height="31.0" fill="#003B4F"/>
<rect x="1665.22" y="550.20" width="31.0" height="31.0" fill="#003B4F"/>
<rect x="1763.35" y="597.90" width="31.0" height="31.0" fill="#003B4F"/>
<rect x="1861.48" y="502.40" width="31.0" height="31.0" fill="#003B4F"/>
<rect x="1959.61" y="706.10" width="31.0" height="31.0" fill="#003B4F"/>
<rect x="2057.74" y="1068.00" width="31.0" height="31.0" fill="#003B4F"/>
<rect x="2155.87" y="601.20" width="31.0" height="31.0" fill="#003B4F"/></g>
<g clip-path="url(#cr)"><rect x="254.85" y="121.20" width="1980.95" height="4.8" fill="#000"/>
<rect x="260.40" y="1702.45" width="1975.40" height="5.3" fill="#000"/>
<rect x="304.05" y="123.60" width="5.7" height="30.20" fill="#000"/>
<rect x="304.05" y="1705.10" width="5.7" height="30.80" fill="#000"/>
<rect x="402.18" y="123.60" width="5.7" height="30.20" fill="#000"/>
<rect x="402.18" y="1705.10" width="5.7" height="30.80" fill="#000"/>
<rect x="500.31" y="123.60" width="5.7" height="30.20" fill="#000"/>
<rect x="500.31" y="1705.10" width="5.7" height="30.80" fill="#000"/>
<rect x="598.44" y="123.60" width="5.7" height="30.20" fill="#000"/>
<rect x="598.44" y="1705.10" width="5.7" height="30.80" fill="#000"/>
<rect x="696.57" y="123.60" width="5.7" height="30.20" fill="#000"/>
<rect x="696.57" y="1705.10" width="5.7" height="30.80" fill="#000"/>
<rect x="794.70" y="123.60" width="5.7" height="30.20" fill="#000"/>
<rect x="794.70" y="1705.10" width="5.7" height="30.80" fill="#000"/>
<rect x="892.83" y="123.60" width="5.7" height="30.20" fill="#000"/>
<rect x="892.83" y="1705.10" width="5.7" height="30.80" fill="#000"/>
<rect x="990.96" y="123.60" width="5.7" height="30.20" fill="#000"/>
<rect x="990.96" y="1705.10" width="5.7" height="30.80" fill="#000"/>
<rect x="1089.09" y="123.60" width="5.7" height="30.20" fill="#000"/>
<rect x="1089.09" y="1705.10" width="5.7" height="30.80" fill="#000"/>
<rect x="1187.22" y="123.60" width="5.7" height="30.20" fill="#000"/>
<rect x="1187.22" y="1705.10" width="5.7" height="30.80" fill="#000"/>
<rect x="1285.35" y="123.60" width="5.7" height="30.20" fill="#000"/>
<rect x="1285.35" y="1705.10" width="5.7" height="30.80" fill="#000"/>
<rect x="1383.48" y="123.60" width="5.7" height="30.20" fill="#000"/>
<rect x="1383.48" y="1705.10" width="5.7" height="30.80" fill="#000"/>
<rect x="1481.61" y="123.60" width="5.7" height="30.20" fill="#000"/>
<rect x="1481.61" y="1705.10" width="5.7" height="30.80" fill="#000"/>
<rect x="1579.74" y="123.60" width="5.7" height="30.20" fill="#000"/>
<rect x="1579.74" y="1705.10" width="5.7" height="30.80" fill="#000"/>
<rect x="1677.87" y="123.60" width="5.7" height="30.20" fill="#000"/>
<rect x="1677.87" y="1705.10" width="5.7" height="30.80" fill="#000"/>
<rect x="1776.00" y="123.60" width="5.7" height="30.20" fill="#000"/>
<rect x="1776.00" y="1705.10" width="5.7" height="30.80" fill="#000"/>
<rect x="1874.13" y="123.60" width="5.7" height="30.20" fill="#000"/>
<rect x="1874.13" y="1705.10" width="5.7" height="30.80" fill="#000"/>
<rect x="1972.26" y="123.60" width="5.7" height="30.20" fill="#000"/>
<rect x="1972.26" y="1705.10" width="5.7" height="30.80" fill="#000"/>
<rect x="2070.39" y="123.60" width="5.7" height="30.20" fill="#000"/>
<rect x="2070.39" y="1705.10" width="5.7" height="30.80" fill="#000"/>
<rect x="2168.52" y="123.60" width="5.7" height="30.20" fill="#000"/>
<rect x="2168.52" y="1705.10" width="5.7" height="30.80" fill="#000"/>
<rect x="254.85" y="123.60" width="5.7" height="14.30" fill="#000"/>
<rect x="254.85" y="1705.10" width="5.7" height="14.80" fill="#000"/>
<rect x="353.11" y="123.60" width="5.7" height="14.30" fill="#000"/>
<rect x="353.11" y="1705.10" width="5.7" height="14.80" fill="#000"/>
<rect x="451.24" y="123.60" width="5.7" height="14.30" fill="#000"/>
<rect x="451.24" y="1705.10" width="5.7" height="14.80" fill="#000"/>
<rect x="549.37" y="123.60" width="5.7" height="14.30" fill="#000"/>
<rect x="549.37" y="1705.10" width="5.7" height="14.80" fill="#000"/>
<rect x="647.50" y="123.60" width="5.7" height="14.30" fill="#000"/>
<rect x="647.50" y="1705.10" width="5.7" height="14.80" fill="#000"/>
<rect x="745.63" y="123.60" width="5.7" height="14.30" fill="#000"/>
<rect x="745.63" y="1705.10" width="5.7" height="14.80" fill="#000"/>
<rect x="843.76" y="123.60" width="5.7" height="14.30" fill="#000"/>
<rect x="843.76" y="1705.10" width="5.7" height="14.80" fill="#000"/>
<rect x="941.89" y="123.60" width="5.7" height="14.30" fill="#000"/>
<rect x="941.89" y="1705.10" width="5.7" height="14.80" fill="#000"/>
<rect x="1040.03" y="123.60" width="5.7" height="14.30" fill="#000"/>
<rect x="1040.03" y="1705.10" width="5.7" height="14.80" fill="#000"/>
<rect x="1138.16" y="123.60" width="5.7" height="14.30" fill="#000"/>
<rect x="1138.16" y="1705.10" width="5.7" height="14.80" fill="#000"/>
<rect x="1236.29" y="123.60" width="5.7" height="14.30" fill="#000"/>
<rect x="1236.29" y="1705.10" width="5.7" height="14.80" fill="#000"/>
<rect x="1334.41" y="123.60" width="5.7" height="14.30" fill="#000"/>
<rect x="1334.41" y="1705.10" width="5.7" height="14.80" fill="#000"/>
<rect x="1432.55" y="123.60" width="5.7" height="14.30" fill="#000"/>
<rect x="1432.55" y="1705.10" width="5.7" height="14.80" fill="#000"/>
<rect x="1530.68" y="123.60" width="5.7" height="14.30" fill="#000"/>
<rect x="1530.68" y="1705.10" width="5.7" height="14.80" fill="#000"/>
<rect x="1628.81" y="123.60" width="5.7" height="14.30" fill="#000"/>
<rect x="1628.81" y="1705.10" width="5.7" height="14.80" fill="#000"/>
<rect x="1726.93" y="123.60" width="5.7" height="14.30" fill="#000"/>
<rect x="1726.93" y="1705.10" width="5.7" height="14.80" fill="#000"/>
<rect x="1825.07" y="123.60" width="5.7" height="14.30" fill="#000"/>
<rect x="1825.07" y="1705.10" width="5.7" height="14.80" fill="#000"/>
<rect x="1923.20" y="123.60" width="5.7" height="14.30" fill="#000"/>
<rect x="1923.20" y="1705.10" width="5.7" height="14.80" fill="#000"/>
<rect x="2021.33" y="123.60" width="5.7" height="14.30" fill="#000"/>
<rect x="2021.33" y="1705.10" width="5.7" height="14.80" fill="#000"/>
<rect x="2119.45" y="123.60" width="5.7" height="14.30" fill="#000"/>
<rect x="2119.45" y="1705.10" width="5.7" height="14.80" fill="#000"/>
<line x1="309.45" y1="611.26" x2="402.48" y2="1483.44" stroke="#000" stroke-width="2.0"/>
<line x1="410.65" y1="1483.97" x2="497.54" y2="1122.93" stroke="#000" stroke-width="2.0"/>
<line x1="506.37" y1="1075.82" x2="598.08" y2="396.08" stroke="#000" stroke-width="2.0"/>
<line x1="605.36" y1="395.95" x2="695.35" y2="919.05" stroke="#000" stroke-width="2.0"/>
<line x1="721.43" y1="952.28" x2="775.54" y2="975.82" stroke="#000" stroke-width="2.0"/>
<line x1="805.28" y1="1008.12" x2="887.95" y2="1251.18" stroke="#000" stroke-width="2.0"/>
<line x1="902.00" y1="1250.75" x2="987.49" y2="937.55" stroke="#000" stroke-width="2.0"/>
<line x1="998.99" y1="890.97" x2="1086.76" y2="493.83" stroke="#000" stroke-width="2.0"/>
<line x1="1106.22" y1="489.69" x2="1175.79" y2="583.61" stroke="#000" stroke-width="2.0"/>
<line x1="1198.15" y1="625.50" x2="1280.12" y2="854.80" stroke="#000" stroke-width="2.0"/>
<line x1="1305.14" y1="860.40" x2="1369.39" y2="795.90" stroke="#000" stroke-width="2.0"/>
<line x1="1393.96" y1="756.15" x2="1476.83" y2="509.15" stroke="#000" stroke-width="2.0"/>
<line x1="1505.36" y1="474.60" x2="1561.69" y2="442.80" stroke="#000" stroke-width="2.0"/>
<line x1="1596.72" y1="450.40" x2="1666.59" y2="546.30" stroke="#000" stroke-width="2.0"/>
<line x1="1702.31" y1="576.19" x2="1757.26" y2="602.91" stroke="#000" stroke-width="2.0"/>
<line x1="1796.05" y1="596.66" x2="1859.78" y2="534.64" stroke="#000" stroke-width="2.0"/>
<line x1="1887.40" y1="539.52" x2="1964.69" y2="699.98" stroke="#000" stroke-width="2.0"/>
<line x1="1981.39" y1="744.76" x2="2066.96" y2="1060.34" stroke="#000" stroke-width="2.0"/>
<line x1="2078.18" y1="1060.01" x2="2166.43" y2="640.19" stroke="#000" stroke-width="2.0"/>
<rect x="291.40" y="571.90" width="31.0" height="31.0" fill="#000"/>
<rect x="389.53" y="1491.80" width="31.0" height="31.0" fill="#000"/>
<rect x="487.66" y="1084.10" width="31.0" height="31.0" fill="#000"/>
<rect x="585.79" y="356.80" width="31.0" height="31.0" fill="#000"/>
<rect x="683.92" y="927.20" width="31.0" height="31.0" fill="#000"/>
<rect x="782.05" y="969.90" width="31.0" height="31.0" fill="#000"/>
<rect x="880.18" y="1258.40" width="31.0" height="31.0" fill="#000"/>
<rect x="978.31" y="898.90" width="31.0" height="31.0" fill="#000"/>
<rect x="1076.44" y="454.90" width="31.0" height="31.0" fill="#000"/>
<rect x="1174.57" y="587.40" width="31.0" height="31.0" fill="#000"/>
<rect x="1272.70" y="861.90" width="31.0" height="31.0" fill="#000"/>
<rect x="1370.83" y="763.40" width="31.0" height="31.0" fill="#000"/>
<rect x="1468.96" y="470.90" width="31.0" height="31.0" fill="#000"/>
<rect x="1567.09" y="415.50" width="31.0" height="31.0" fill="#000"/>
<rect x="1665.22" y="550.20" width="31.0" height="31.0" fill="#000"/>
<rect x="1763.35" y="597.90" width="31.0" height="31.0" fill="#000"/>
<rect x="1861.48" y="502.40" width="31.0" height="31.0" fill="#000"/>
<rect x="1959.61" y="706.10" width="31.0" height="31.0" fill="#000"/>
<rect x="2057.74" y="1068.00" width="31.0" height="31.0" fill="#000"/>
<rect x="2155.87" y="601.20" width="31.0" height="31.0" fill="#000"/></g>
<rect x="253.92" y="76.97" width="783.01" height="1656.86" fill="none" stroke="#C8C9C9" stroke-width="1.74"/>
<rect x="1054.97" y="76.97" width="1152.91" height="1656.86" fill="none" stroke="#C8C9C9" stroke-width="1.74"/>
<rect x="226.35" y="1702.45" width="26.70" height="5.3" fill="#B08C68"/>
<text x="205" y="1724.20" font-size="68" text-anchor="end">0</text>
<rect x="242.3" y="1504.41" width="10.75" height="6.0" fill="#B08C68"/>
<rect x="226.35" y="1306.72" width="26.70" height="6.0" fill="#B08C68"/>
<text x="205" y="1328.82" font-size="68" text-anchor="end">10</text>
<rect x="242.3" y="1109.04" width="10.75" height="6.0" fill="#B08C68"/>
<rect x="226.35" y="911.35" width="26.70" height="6.0" fill="#B08C68"/>
<text x="205" y="933.45" font-size="68" text-anchor="end">20</text>
<rect x="242.3" y="713.66" width="10.75" height="6.0" fill="#B08C68"/>
<rect x="226.35" y="515.97" width="26.70" height="6.0" fill="#B08C68"/>
<text x="205" y="538.07" font-size="68" text-anchor="end">30</text>
<rect x="242.3" y="318.29" width="10.75" height="6.0" fill="#B08C68"/>
<rect x="226.35" y="121.20" width="26.70" height="4.8" fill="#B08C68"/>
<text x="205" y="142.70" font-size="68" text-anchor="end">40</text>
<rect x="2217.90" y="121.20" width="5.9" height="1598.70" fill="#000"/>
<rect x="2220.85" y="1702.45" width="14.95" height="5.3" fill="#000"/>
<rect x="2220.85" y="1543.95" width="30.55" height="6.0" fill="#000"/>
<text x="2273" y="1566.05" font-size="68">-20</text>
<rect x="2220.85" y="1385.80" width="14.95" height="6.0" fill="#000"/>
<rect x="2220.85" y="1227.65" width="30.55" height="6.0" fill="#000"/>
<text x="2273" y="1249.75" font-size="68">-10</text>
<rect x="2220.85" y="1069.50" width="14.95" height="6.0" fill="#000"/>
<rect x="2220.85" y="911.35" width="30.55" height="6.0" fill="#000"/>
<text x="2273" y="933.45" font-size="68">0</text>
<rect x="2220.85" y="753.20" width="14.95" height="6.0" fill="#000"/>
<rect x="2220.85" y="595.05" width="30.55" height="6.0" fill="#000"/>
<text x="2273" y="617.15" font-size="68">10</text>
<rect x="2220.85" y="436.90" width="14.95" height="6.0" fill="#000"/>
<rect x="2220.85" y="278.75" width="30.55" height="6.0" fill="#000"/>
<text x="2273" y="300.85" font-size="68">20</text>
<rect x="2220.85" y="121.20" width="14.95" height="4.8" fill="#000"/>
<line x1="1046.45" y1="27.4" x2="1046.45" y2="1787.2" stroke="#C00000" stroke-width="9.0" stroke-linecap="round" stroke-dasharray="59.1 41.54"/>
<rect x="1681.1" y="162.9" width="412.7" height="314.8" fill="none" stroke="#003B4F" stroke-width="1.6"/>
<rect x="1693.8999999999999" y="175.4" width="180.2" height="88.1" fill="#87AFDE" stroke="#8FC8DC" stroke-width="1.6"/>
<text x="1896" y="246.3" font-size="82" fill="#003B4F">RAM</text>
<rect x="1693.8999999999999" y="276.5" width="180.2" height="88.1" fill="#6DC9B8" stroke="#5A90A8" stroke-width="1.6"/>
<text x="1896" y="348.0" font-size="82" fill="#003B4F">DSP</text>
<rect x="1693.8999999999999" y="377.90000000000003" width="180.2" height="87.9" fill="#ADBFB3" stroke="#1A4F66" stroke-width="1.6"/>
<text x="1896" y="449.4" font-size="82" fill="#003B4F">adder</text>
<text transform="translate(358.6,1807.3) rotate(-45)" font-size="68" text-anchor="end">Spmv</text>
<text transform="translate(456.7,1807.3) rotate(-45)" font-size="68" text-anchor="end">tiny<tspan dy="4">_</tspan><tspan dy="-4">s</tspan></text>
<text transform="translate(554.9,1807.3) rotate(-45)" font-size="68" text-anchor="end">dla<tspan dy="4">_</tspan><tspan dy="-4">like.s</tspan></text>
<text transform="translate(653.0,1807.3) rotate(-45)" font-size="68" text-anchor="end">tpu<tspan dy="4">_</tspan><tspan dy="-4">like.s</tspan></text>
<text transform="translate(751.1,1807.3) rotate(-45)" font-size="68" text-anchor="end">Reduction</text>
<text transform="translate(849.2,1807.3) rotate(-45)" font-size="68" text-anchor="end">lstm</text>
<text transform="translate(947.4,1807.3) rotate(-45)" font-size="68" text-anchor="end">attention</text>
<text transform="translate(1045.5,1807.3) rotate(-45)" font-size="68" text-anchor="end">dla<tspan dy="4">_</tspan><tspan dy="-4">m</tspan></text>
<text transform="translate(1143.6,1807.3) rotate(-45)" font-size="68" text-anchor="end">eltwise<tspan dy="4">_</tspan><tspan dy="-4">lay</tspan></text>
<text transform="translate(1241.8,1807.3) rotate(-45)" font-size="68" text-anchor="end">tiny<tspan dy="4">_</tspan><tspan dy="-4">m</tspan></text>
<text transform="translate(1339.9,1807.3) rotate(-45)" font-size="68" text-anchor="end">Conv<tspan dy="4">_</tspan><tspan dy="-4">lay</tspan></text>
<text transform="translate(1438.0,1807.3) rotate(-45)" font-size="68" text-anchor="end">robot<tspan dy="4">_</tspan><tspan dy="-4">rl</tspan></text>
<text transform="translate(1536.2,1807.3) rotate(-45)" font-size="68" text-anchor="end">tpu<tspan dy="4">_</tspan><tspan dy="-4">m</tspan></text>
<text transform="translate(1634.3,1807.3) rotate(-45)" font-size="68" text-anchor="end">bnn</text>
<text transform="translate(1732.4,1807.3) rotate(-45)" font-size="68" text-anchor="end">clstm<tspan dy="4">_</tspan><tspan dy="-4">s</tspan></text>
<text transform="translate(1830.5,1807.3) rotate(-45)" font-size="68" text-anchor="end">clstm<tspan dy="4">_</tspan><tspan dy="-4">m</tspan></text>
<text transform="translate(1928.7,1807.3) rotate(-45)" font-size="68" text-anchor="end">clstm<tspan dy="4">_</tspan><tspan dy="-4">l</tspan></text>
<text transform="translate(2026.8,1807.3) rotate(-45)" font-size="68" text-anchor="end">Conv<tspan dy="4">_</tspan><tspan dy="-4">hls</tspan></text>
<text transform="translate(2124.9,1807.3) rotate(-45)" font-size="68" text-anchor="end">Softmax</text>
<text transform="translate(2223.1,1807.3) rotate(-45)" font-size="68" text-anchor="end">Gemm<tspan dy="4">_</tspan><tspan dy="-4">lay</tspan></text>
<text x="1311.7" y="2061.7" font-size="81.6" text-anchor="middle">benchmark</text>
<text transform="translate(84.3,914.2) rotate(-90)" font-size="82.33" text-anchor="middle">the proportion of each block (%)</text>
<text transform="translate(2452.3,904) rotate(-90)" font-size="82.33" text-anchor="middle">gain in critical path delay (%)</text>
</svg>
</body></html>
